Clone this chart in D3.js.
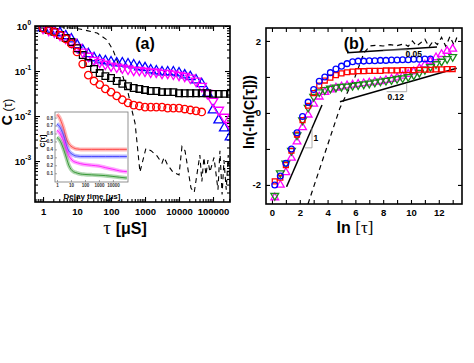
<!DOCTYPE html>
<html>
<head>
<meta charset="utf-8">
<title>C(tau) decay</title>
<script src="https://cdn.jsdelivr.net/npm/d3@7/dist/d3.min.js"></script>
<style>
body { margin: 0; background: #fff; }
text { font-family: "Liberation Sans", Arial, sans-serif; }
</style>
</head>
<body>
<script>
// ---- panel (a): C(tau) vs tau, log-log ----
var tauA = [1,1.47,2.15,3.16,4.64,6.81,10,14.7,21.5,31.6,46.4,68.1,100,147,215,316,464,681,1000,1470,2150,3160,4640,6810,10000,14700,21500,31600,46400,68100,100000,147000,215000,316000];
var blueA = [0.90,0.84,0.77,0.70,0.60,0.51,0.38,0.29,0.24,0.195,0.175,0.167,0.158,0.15,0.15,0.143,0.136,0.123,0.117,0.105,0.10,0.095,0.095,0.095,0.09,0.081,0.074,0.063,0.052,0.032,0.0135,0.0081,0.0054,0.0034];
var magentaA = [0.90,0.81,0.74,0.63,0.54,0.44,0.34,0.265,0.215,0.175,0.158,0.143,0.13,0.123,0.117,0.111,0.105,0.105,0.10,0.095,0.095,0.09,0.09,0.086,0.081,0.077,0.07,0.06,0.046,0.032,0.0215,0.0136,0.0095,0.0063];
var blackA = [0.90,0.81,0.74,0.63,0.54,0.44,0.32,0.227,0.15,0.111,0.09,0.077,0.07,0.06,0.052,0.046,0.042,0.040,0.038,0.036,0.036,0.034,0.034,0.034,0.032,0.032,0.032,0.032,0.032,0.032,0.031,0.031,0.031,0.031];
var redA = [0.90,0.81,0.74,0.63,0.52,0.40,0.265,0.143,0.081,0.06,0.05,0.04,0.034,0.028,0.023,0.0196,0.0175,0.0167,0.0158,0.0158,0.0158,0.0158,0.015,0.015,0.015,0.0143,0.0136,0.013,0.0123];
var dashTau = [3,12,39,76,115,160,225,320,410,510,710,1060,1500,2250,3150,3650,4500,6600,10000,12200,15000,22500,28000,41000,47000,54000,62000,71000,81000,107000,140000,160000,185000,210000,245000,280000,320000];
var dashC = [0.96,0.86,0.70,0.49,0.29,0.15,0.074,0.032,0.0136,0.0069,0.00057,0.0019,0.0017,0.0013,0.0009,0.0012,0.00085,0.00057,0.00049,0.0021,0.0017,0.00025,0.0002,0.00136,0.00035,0.0012,0.00049,0.00105,0.00057,0.0012,0.00023,0.0017,0.00018,0.00105,0.00023,0.00136,0.0003];
var xTicksA = [1,10,100,1000,10000,100000];
var yTicksA = [0.001,0.01,0.1,1];

// inset: C(tau) vs delay time
var tauI = [1,1.5,2,3,5,7,10,15,20,30,50,100,300,1000,3000,10000,30000,100000];
var redI = [0.84,0.80,0.75,0.66,0.52,0.47,0.44,0.42,0.41,0.405,0.40,0.40,0.40,0.40,0.40,0.40,0.40,0.40];
var blueI = [0.72,0.69,0.65,0.57,0.44,0.38,0.35,0.33,0.32,0.315,0.31,0.31,0.31,0.31,0.31,0.31,0.31,0.31];
var magentaI = [0.64,0.61,0.57,0.50,0.38,0.32,0.28,0.25,0.24,0.23,0.22,0.21,0.20,0.19,0.17,0.15,0.13,0.12];
var greenI = [0.55,0.52,0.48,0.40,0.28,0.20,0.15,0.12,0.11,0.10,0.09,0.085,0.08,0.075,0.07,0.06,0.05,0.04];
var xTicksI = [1,10,100,1000,10000];
var yTicksI = [0.1,0.2,0.3,0.4,0.5,0.6,0.7,0.8];

// ---- panel (b): ln(-ln C) vs ln tau ----
var lnT = [0.2,0.6,1.0,1.4,1.8,2.2,2.6,3.0,3.4,3.8,4.2,4.6,5.0,5.4,5.8,6.2,6.6,7.0,7.4,7.8,8.2,8.6,9.0,9.4,9.8,10.2,10.6,11.0,11.4,11.8,12.2,12.6,13.0];
var blueB = [-2.0,-1.75,-1.4,-1.0,-0.55,-0.1,0.3,0.65,0.88,1.0,1.12,1.22,1.3,1.37,1.42,1.44,1.44,1.45,1.45,1.46,1.46,1.47,1.47,1.48,1.48,1.49,1.49,1.5,1.5];
var redB = [-1.9,-1.8,-1.45,-1.05,-0.6,-0.2,0.2,0.55,0.76,0.9,0.98,1.05,1.1,1.13,1.15,1.16,1.16,1.17,1.17,1.17,1.18,1.18,1.18,1.19,1.19,1.19,1.2,1.2,1.2,1.21,1.21,1.22,1.22];
var greenB = [-2.3,-1.67,-1.4,-1.05,-0.62,-0.2,0.15,0.45,0.58,0.64,0.68,0.71,0.73,0.74,0.76,0.78,0.8,0.82,0.85,0.88,0.9,0.92,0.95,0.97,1.0,1.05,1.12,1.2,1.28,1.36,1.43,1.5,1.56];
var magentaB = [-2.35,-2.0,-1.65,-1.25,-0.8,-0.4,-0.05,0.25,0.45,0.58,0.65,0.7,0.73,0.76,0.78,0.8,0.82,0.84,0.86,0.88,0.91,0.94,0.98,1.03,1.08,1.15,1.24,1.34,1.44,1.54,1.63,1.72,1.78];
var dashLn = [2.59,4.89,5.97,6.62,7.05,7.5,8.0,8.5,9.0,9.5,9.8,10.1,10.4,10.7,11.0,11.3,11.6,11.9,12.2,12.5,12.8,13.1,13.3];
var dashV = [-2.53,0.14,1.0,1.67,1.86,1.88,1.86,1.9,1.87,1.92,1.85,2.0,1.86,1.95,2.05,1.84,2.0,1.9,2.1,1.85,2.12,1.88,2.1];
var fitSlope1 = [[1.05,-2.05],[3.6,0.22]];
var fitSlope005 = [[5.4,1.67],[11.87,1.83]];
var fitSlope012 = [[4.89,0.31],[13.29,1.24]];
var xTicksB = [0,1,2,3,4,5,6,7,8,9,10,11,12,13];
var yTicksB = [-2,-1,0,1,2];

var svg = d3.select('body').append('svg').attr('width', 474).attr('height', 363);

function styleAxis(g, size, family) {
  g.select('.domain').remove();
  g.selectAll('line').attr('stroke', '#000').attr('stroke-width', 1.1);
  g.selectAll('text').attr('font-family', family || '"Liberation Sans", Arial, sans-serif')
    .attr('font-weight', 'bold').attr('font-size', size).attr('fill', '#000');
}
function minorLog(lo, hi) {
  var out = [];
  for (var e = -5; e <= 6; e++) for (var m = 2; m <= 9; m++) {
    var v = m * Math.pow(10, e);
    if (v > lo && v < hi) out.push(v);
  }
  return out;
}
function markers(g, xs, ys, x, y, type, size, color, rot) {
  var pts = ys.map(function(v, i) { return [xs[i], v]; });
  g.selectAll(null).data(pts).enter().append('path')
    .attr('d', d3.symbol().type(type).size(size))
    .attr('transform', function(d) { return 'translate(' + x(d[0]) + ',' + y(d[1]) + ')' + (rot ? ' rotate(180)' : ''); })
    .attr('fill', 'none').attr('stroke', color).attr('stroke-width', 1.3);
}

// ================= panel (a) =================
var xA = d3.scaleLog().domain([0.58, 316000]).range([35, 230]);
var yA = d3.scaleLog().domain([1.23e-4, 1]).range([202, 26]);
var gA = svg.append('g');
gA.append('clipPath').attr('id', 'clipA').append('rect').attr('x', 35).attr('y', 26).attr('width', 195).attr('height', 176);

var axA = [
  [d3.axisBottom(xA).tickValues(xTicksA).tickSize(-5).tickPadding(6).tickFormat(d3.format('d')), 'translate(0,202)', 9.5, '"Liberation Serif", serif'],
  [d3.axisBottom(xA).tickValues(minorLog(0.58, 316000)).tickSize(-3).tickFormat(''), 'translate(0,202)'],
  [d3.axisTop(xA).tickValues(xTicksA).tickSize(-5).tickFormat(''), 'translate(0,26)'],
  [d3.axisTop(xA).tickValues(minorLog(0.58, 316000)).tickSize(-3).tickFormat(''), 'translate(0,26)'],
  [d3.axisLeft(yA).tickValues(yTicksA).tickSize(-5).tickPadding(4), 'translate(35,0)', 9.5],
  [d3.axisLeft(yA).tickValues(minorLog(1.23e-4, 1)).tickSize(-3).tickFormat(''), 'translate(35,0)'],
  [d3.axisRight(yA).tickValues(yTicksA).tickSize(-5).tickFormat(''), 'translate(230,0)'],
  [d3.axisRight(yA).tickValues(minorLog(1.23e-4, 1)).tickSize(-3).tickFormat(''), 'translate(230,0)']
];
axA.forEach(function(a, i) {
  var g = gA.append('g').attr('transform', a[1]).call(a[0]);
  styleAxis(g, a[2] || 9, a[3]);
  if (i === 4) {
    g.selectAll('.tick text').each(function(d) {
      var t = d3.select(this).text(null);
      t.append('tspan').text('10');
      t.append('tspan').attr('dy', -5).attr('font-size', 6.5).text(Math.round(Math.log10(d)));
    });
  }
});

var plotA = gA.append('g').attr('clip-path', 'url(#clipA)');
plotA.append('path')
  .datum(dashC.map(function(v, i) { return [dashTau[i], v]; }))
  .attr('d', d3.line().x(function(d) { return xA(d[0]); }).y(function(d) { return yA(d[1]); }))
  .attr('fill', 'none').attr('stroke', '#000').attr('stroke-width', 1.1).attr('stroke-dasharray', '5,4');
markers(plotA, tauA, blueA, xA, yA, d3.symbolTriangle, 40, '#0000ff');
markers(plotA, tauA, magentaA, xA, yA, d3.symbolTriangle, 40, '#ff00ff', true);
markers(plotA, tauA, blackA, xA, yA, d3.symbolSquare, 44, '#000');
markers(plotA, tauA, redA, xA, yA, d3.symbolCircle, 44, '#ff0000');

gA.append('rect').attr('x', 35).attr('y', 26).attr('width', 195).attr('height', 176)
  .attr('fill', 'none').attr('stroke', '#000').attr('stroke-width', 1.6);

gA.append('text').attr('x', 145).attr('y', 49).attr('text-anchor', 'middle')
  .attr('font-weight', 'bold').attr('font-size', 16).text('(a)');
var ylabA = gA.append('text').attr('transform', 'translate(12,112) rotate(-90)').attr('text-anchor', 'middle');
ylabA.append('tspan').attr('font-weight', 'bold').attr('font-size', 14).text('C ');
ylabA.append('tspan').attr('font-size', 12).text('(τ)');
var xlabA = gA.append('text').attr('x', 125).attr('y', 234).attr('text-anchor', 'middle');
xlabA.append('tspan').attr('font-family', '"Liberation Serif", serif').attr('font-size', 19).text('τ ');
xlabA.append('tspan').attr('font-weight', 'bold').attr('font-size', 16).text('[μS]');

// ---- inset ----
var xI = d3.scaleLog().domain([0.72, 120000]).range([55, 128]);
var yI = d3.scaleLinear().domain([-0.01, 0.87]).range([182, 112]);
var gI = gA.append('g');
gI.append('rect').attr('x', 55).attr('y', 112).attr('width', 73).attr('height', 70).attr('fill', '#fff');
var axI = [
  [d3.axisBottom(xI).tickValues(xTicksI).tickSize(-2).tickPadding(2).tickFormat(d3.format('d')), 'translate(0,182)'],
  [d3.axisLeft(yI).tickValues(yTicksI).tickSize(-2).tickPadding(2), 'translate(55,0)']
];
axI.forEach(function(a) {
  var g = gI.append('g').attr('transform', a[1]).call(a[0]);
  styleAxis(g, 4.5);
  g.selectAll('line').attr('stroke', '#666').attr('stroke-width', 0.6);
  g.selectAll('text').attr('fill', '#333');
});
[[redI, '#ff3030'], [blueI, '#3030ff'], [magentaI, '#ff00ff'], [greenI, '#1a8a1a']].forEach(function(s) {
  var ln = d3.line().curve(d3.curveMonotoneX).x(function(d, i) { return xI(tauI[i]); }).y(function(d) { return yI(d); });
  gI.append('path').datum(s[0]).attr('d', ln).attr('fill', 'none').attr('stroke', s[1]).attr('stroke-opacity', 0.35).attr('stroke-width', 4);
  gI.append('path').datum(s[0]).attr('d', ln).attr('fill', 'none').attr('stroke', s[1]).attr('stroke-width', 0.8);
});
gI.append('rect').attr('x', 55).attr('y', 112).attr('width', 73).attr('height', 70)
  .attr('fill', 'none').attr('stroke', '#777').attr('stroke-width', 0.8);
gI.append('text').attr('x', 92).attr('y', 199).attr('text-anchor', 'middle')
  .attr('font-weight', 'bold').attr('font-size', 8).text('Delay time [μs]');
gI.append('text').attr('transform', 'translate(45,141) rotate(-90)').attr('text-anchor', 'middle')
  .attr('font-weight', 'bold').attr('font-size', 7).text('C[τ]');

// ================= panel (b) =================
var xB = d3.scaleLinear().domain([-0.43, 13.67]).range([266, 462]);
var yB = d3.scaleLinear().domain([-2.53, 2.36]).range([204, 28]);
var gB = svg.append('g');
gB.append('clipPath').attr('id', 'clipB').append('rect').attr('x', 266).attr('y', 28).attr('width', 196).attr('height', 176);

var axB = [
  [d3.axisBottom(xB).tickValues(xTicksB).tickSize(-4).tickPadding(5).tickFormat(function(d) { return d % 2 ? '' : d; }), 'translate(0,204)'],
  [d3.axisTop(xB).tickValues(xTicksB).tickSize(-4).tickFormat(''), 'translate(0,28)'],
  [d3.axisLeft(yB).tickValues(yTicksB).tickSize(-4).tickPadding(5).tickFormat(function(d) { return d % 2 ? '' : d; }), 'translate(266,0)'],
  [d3.axisRight(yB).tickValues(yTicksB).tickSize(-4).tickFormat(''), 'translate(462,0)']
];
axB.forEach(function(a) {
  var g = gB.append('g').attr('transform', a[1]).call(a[0]);
  styleAxis(g, 9.5);
});

var plotB = gB.append('g').attr('clip-path', 'url(#clipB)');
var lineB = d3.line().x(function(d) { return xB(d[0]); }).y(function(d) { return yB(d[1]); });
plotB.append('path').datum(dashV.map(function(v, i) { return [dashLn[i], v]; })).attr('d', lineB)
  .attr('fill', 'none').attr('stroke', '#000').attr('stroke-width', 1.2).attr('stroke-dasharray', '5,4');
[fitSlope1, fitSlope005, fitSlope012].forEach(function(f) {
  plotB.append('path').datum(f).attr('d', lineB).attr('fill', 'none').attr('stroke', '#000').attr('stroke-width', 1.5);
});
// slope triangles
var tri = [
  [[2.37,-0.97],[2.88,-0.97],[2.88,-0.42]],
  [[7.99,1.75],[9.71,1.75],[9.71,1.58]],
  [[8.25,0.59],[9.69,0.59],[9.69,0.83]]
];
tri.forEach(function(t) {
  plotB.append('path').datum(t).attr('d', lineB).attr('fill', 'none').attr('stroke', '#999').attr('stroke-width', 0.8);
});
markers(plotB, lnT, magentaB, xB, yB, d3.symbolTriangle, 26, '#ff00ff');
markers(plotB, lnT, greenB, xB, yB, d3.symbolTriangle, 26, '#1a8a1a', true);
markers(plotB, lnT, redB, xB, yB, d3.symbolSquare, 24, '#ff0000');
markers(plotB, lnT, blueB, xB, yB, d3.symbolCircle, 26, '#0000ff');

gB.append('rect').attr('x', 266).attr('y', 28).attr('width', 196).attr('height', 176)
  .attr('fill', 'none').attr('stroke', '#000').attr('stroke-width', 1.6);

gB.append('text').attr('x', 354).attr('y', 49).attr('text-anchor', 'middle')
  .attr('font-weight', 'bold').attr('font-size', 16).text('(b)');
[['1', 2.98, -0.78], ['0.05', 10.2, 1.55], ['0.12', 8.9, 0.35]].forEach(function(l) {
  gB.append('text').attr('x', xB(l[1])).attr('y', yB(l[2])).attr('text-anchor', l[0] === '1' ? 'start' : 'middle')
    .attr('font-weight', 'bold').attr('font-size', 8.5).text(l[0]);
});
gB.append('text').attr('transform', 'translate(254,112) rotate(-90)').attr('text-anchor', 'middle')
  .attr('font-weight', 'bold').attr('font-size', 14).text('ln(-ln(C[τ]))');
var xlabB = gB.append('text').attr('x', 355).attr('y', 233).attr('text-anchor', 'middle');
xlabB.append('tspan').attr('font-weight', 'bold').attr('font-size', 16).text('ln ');
xlabB.append('tspan').attr('font-size', 17).attr('font-family', '"Liberation Serif", serif').text('[τ]');
</script>
</body>
</html>
